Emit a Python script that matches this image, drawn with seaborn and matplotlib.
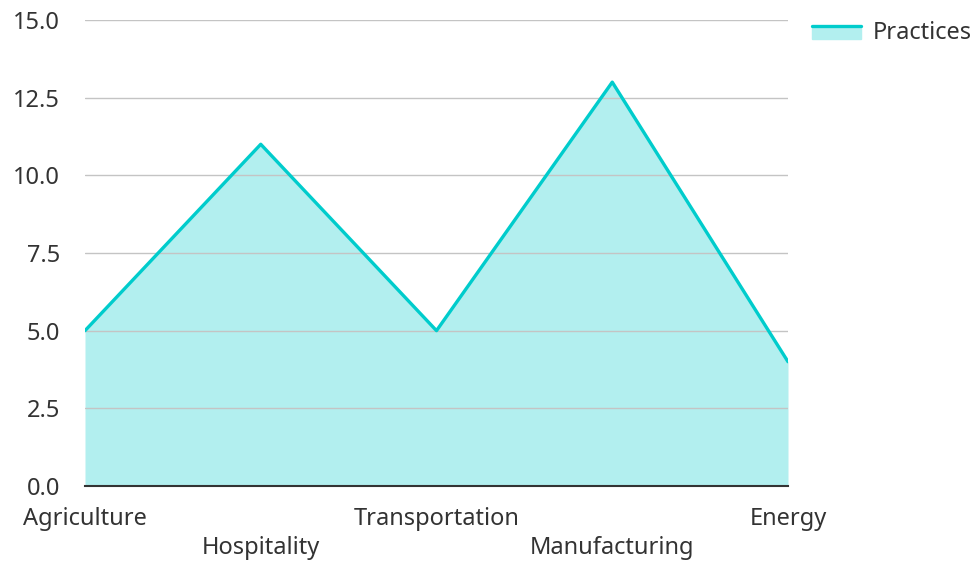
import pandas as pd
import matplotlib.pyplot as plt
import seaborn as sns
from matplotlib.lines import Line2D
from matplotlib.patches import Rectangle
from matplotlib.legend_handler import HandlerBase

sectors = ['Agriculture', 'Hospitality', 'Transportation', 'Manufacturing', 'Energy']
practices = [5, 11, 5, 13, 4]

df = pd.DataFrame({'Sector': sectors, 'Practices': practices, 'pos': range(len(sectors))})

sns.set_style('white')
plt.rcParams['font.family'] = ['Noto Sans', 'DejaVu Sans']

fig = plt.figure(figsize=(9.77, 5.61), dpi=100)
ax = fig.add_axes([85 / 977, 75 / 561, 703 / 977, 466 / 561])

line_color = '#00CCCC'
fill_color = '#B2EFEF'

ax.fill_between(df['pos'], df['Practices'], 0, color=fill_color, linewidth=0, zorder=1)
sns.lineplot(data=df, x='pos', y='Practices', color=line_color, linewidth=2.4, ax=ax, zorder=3)

ax.set_xlim(0, len(sectors) - 1)
ax.set_ylim(0, 15)
ax.set_yticks([0, 2.5, 5, 7.5, 10, 12.5, 15])
ax.set_yticklabels(['0.0', '2.5', '5.0', '7.5', '10.0', '12.5', '15.0'])
ax.set_xticks(df['pos'])
ax.set_xticklabels([s if i % 2 == 0 else '\n' + s for i, s in enumerate(sectors)])
ax.tick_params(axis='both', length=0, labelsize=17, colors='#333333')
ax.tick_params(axis='y', pad=18)
ax.tick_params(axis='x', pad=15)
for lbl in ax.get_xticklabels():
    lbl.set_linespacing(1.3)
ax.set_xlabel('')
ax.set_ylabel('')
ax.set_axisbelow(False)
ax.grid(axis='y', color='#c4c4c4', linewidth=1)
for gl in ax.get_ygridlines():
    gl.set_zorder(2)
for s in ['top', 'right', 'left']:
    ax.spines[s].set_visible(False)
ax.spines['bottom'].set_color('#333333')
ax.spines['bottom'].set_linewidth(1.5)
ax.spines['bottom'].set_zorder(4)


class AreaHandler(HandlerBase):
    def create_artists(self, legend, orig, xd, yd, w, h, fontsize, trans):
        rect = Rectangle((xd, yd), w, h * 0.75, color=fill_color, transform=trans)
        ln = Line2D([xd, xd + w], [yd + h * 0.8, yd + h * 0.8], color=line_color,
                    linewidth=2.4, transform=trans)
        return [rect, ln]


fig.legend(['area'], ['Practices'], handler_map={str: AreaHandler()},
           loc='upper right', bbox_to_anchor=(1.017, 1.0), frameon=False,
           fontsize=17, handlelength=2.1, handletextpad=0.5, labelcolor='#333333')

plt.savefig('out.png', dpi=100)
